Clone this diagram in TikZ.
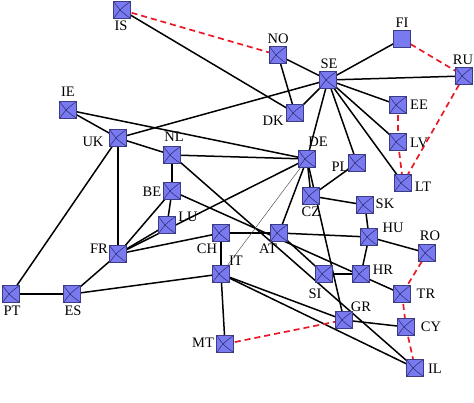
\documentclass[tikz,border=0pt]{standalone}
\usepackage{fontspec}
\setmainfont{Liberation Serif}
\usetikzlibrary{backgrounds}
\definecolor{boxfill}{RGB}{122,122,240}
\definecolor{boxborder}{RGB}{60,60,130}
\definecolor{xcol}{RGB}{40,40,110}
\definecolor{redlink}{RGB}{235,25,40}
\tikzset{
  sw/.style={rectangle, draw=boxborder, fill=boxfill, minimum size=17.5pt, inner sep=0pt, line width=0.6pt,
    path picture={\draw[xcol, line width=0.5pt]
      ([shift={(1pt,1pt)}]path picture bounding box.south west) to[bend left=12] ([shift={(-1pt,-1pt)}]path picture bounding box.north east)
      ([shift={(1pt,-1pt)}]path picture bounding box.north west) to[bend right=12] ([shift={(-1pt,1pt)}]path picture bounding box.south east);}},
  swplain/.style={rectangle, draw=boxborder, fill=boxfill, minimum size=17.5pt, inner sep=0pt, line width=0.6pt},
  lbl/.style={font=\fontsize{14.5}{15}\selectfont, inner sep=0pt},
  blk/.style={draw=black, line width=1.5pt},
  thinl/.style={draw=black!70, line width=0.45pt},
  reddash/.style={draw=redlink, line width=1.7pt, dash pattern=on 6pt off 4pt},
}
\begin{document}
\begin{tikzpicture}[x=1pt,y=-1pt]
\useasboundingbox (0,0) rectangle (474,402);
% switches
\node[sw] (IS) at (122,10) {};
\node[sw] (NO) at (278,55) {};
\node[sw] (SE) at (328,80) {};
\node[swplain] (FI) at (402,39) {};
\node[sw] (RU) at (464,76) {};
\node[sw] (DK) at (295,113) {};
\node[sw] (EE) at (398,105) {};
\node[sw] (LV) at (398,142) {};
\node[sw] (LT) at (403,183) {};
\node[sw] (IE) at (68,110) {};
\node[sw] (UK) at (118,138) {};
\node[sw] (NL) at (172,155) {};
\node[sw] (DE) at (307,159) {};
\node[sw] (PL) at (357,163) {};
\node[sw] (BE) at (172,191) {};
\node[sw] (LU) at (167,225) {};
\node[sw] (FR) at (118,254) {};
\node[sw] (CH) at (221,233) {};
\node[sw] (AT) at (279,233) {};
\node[sw] (CZ) at (311,196) {};
\node[sw] (SK) at (365,205) {};
\node[sw] (HU) at (369,237) {};
\node[sw] (RO) at (427,253) {};
\node[sw] (IT) at (221,274) {};
\node[sw] (SI) at (324,274) {};
\node[sw] (HR) at (361,274) {};
\node[sw] (TR) at (402,294) {};
\node[sw] (GR) at (344,320) {};
\node[sw] (CY) at (406,327) {};
\node[sw] (IL) at (415,368) {};
\node[sw] (PT) at (11,294) {};
\node[sw] (ES) at (72,294) {};
\node[sw] (MT) at (225,344) {};
% labels
\node[lbl] (lIS) at (121,26) {IS};
\node[lbl] (lNO) at (278,39) {NO};
\node[lbl] (lSE) at (329,64) {SE};
\node[lbl] (lFI) at (402,23) {FI};
\node[lbl] (lRU) at (463,60) {RU};
\node[lbl] (lDK) at (273,121) {DK};
\node[lbl] (lEE) at (419,105) {EE};
\node[lbl] (lLV) at (419,143) {LV};
\node[lbl] (lLT) at (423,187) {LT};
\node[lbl] (lIE) at (68,92) {IE};
\node[lbl] (lUK) at (93,142) {UK};
\node[lbl] (lNL) at (174,137) {NL};
\node[lbl] (lDE) at (318,142) {DE};
\node[lbl] (lPL) at (340,167) {PL};
\node[lbl] (lBE) at (152,192) {BE};
\node[lbl] (lLU) at (188,217) {LU};
\node[lbl] (lFR) at (99,249) {FR};
\node[lbl] (lCH) at (207,249) {CH};
\node[lbl] (lAT) at (268,249) {AT};
\node[lbl] (lIT) at (236,261) {IT};
\node[lbl] (lCZ) at (311,212) {CZ};
\node[lbl] (lSK) at (385,204) {SK};
\node[lbl] (lHU) at (393,228) {HU};
\node[lbl] (lRO) at (430,236) {RO};
\node[lbl] (lSI) at (315,294) {SI};
\node[lbl] (lHR) at (383,270) {HR};
\node[lbl] (lTR) at (426,294) {TR};
\node[lbl] (lGR) at (361,307) {GR};
\node[lbl] (lCY) at (431,327) {CY};
\node[lbl] (lIL) at (435,369) {IL};
\node[lbl] (lPT) at (12,311) {PT};
\node[lbl] (lES) at (73,311) {ES};
\node[lbl] (lMT) at (203,343) {MT};
% links
\begin{scope}[on background layer]
\draw[blk] (IS.center) -- (DK.center);
\draw[blk] (NO.center) -- (SE.center);
\draw[blk] (NO.center) -- (DK.center);
\draw[blk] (DK.center) -- (SE.center);
\draw[blk] (SE.center) -- (FI.center);
\draw[blk] (SE.center) -- (RU.center);
\draw[blk] (SE.center) -- (EE.center);
\draw[blk] (SE.center) -- (LV.center);
\draw[blk] (SE.center) -- (LT.center);
\draw[blk] (SE.center) -- (PL.center);
\draw[blk] (SE.center) -- (DE.center);
\draw[blk] (SE.center) -- (UK.center);
\draw[blk] (IE.center) -- (UK.center);
\draw[blk] (IE.center) -- (DE.center);
\draw[blk] (UK.center) -- (NL.center);
\draw[blk] (UK.center) -- (FR.center);
\draw[blk] (UK.center) -- (PT.center);
\draw[blk] (NL.center) -- (DE.center);
\draw[blk] (NL.center) -- (BE.center);
\draw[blk] (NL.center) -- (IL.center);
\draw[blk] (BE.center) -- (LU.center);
\draw[blk] (BE.center) -- (FR.center);
\draw[blk] (BE.center) -- (TR.center);
\draw[blk] (LU.center) -- (FR.center);
\draw[blk] (FR.center) -- (DE.center);
\draw[blk] (FR.center) -- (CH.center);
\draw[blk] (FR.center) -- (ES.center);
\draw[blk] (PT.center) -- (ES.center);
\draw[blk] (ES.center) -- (IT.center);
\draw[blk] (CH.center) -- (AT.center);
\draw[blk] (CH.center) -- (IT.center);
\draw[blk] (AT.center) -- (HU.center);
\draw[blk] (AT.center) -- (DE.center);
\draw[blk] (AT.center) -- (SI.center);
\draw[blk] (DE.center) -- (CZ.center);
\draw[blk] (DE.center) -- (GR.center);
\draw[thinl] (DE.center) -- (IT.center);
\draw[blk] (CZ.center) -- (PL.center);
\draw[blk] (CZ.center) -- (SK.center);
\draw[blk] (SK.center) -- (HU.center);
\draw[blk] (HU.center) -- (HR.center);
\draw[blk] (HU.center) -- (RO.center);
\draw[blk] (SI.center) -- (HR.center);
\draw[blk] (IT.center) -- (MT.center);
\draw[blk] (IT.center) -- (GR.center);
\draw[blk] (IT.center) -- (IL.center);
\draw[blk] (GR.center) -- (CY.center);
\draw[reddash] (IS.center) -- (NO.center);
\draw[reddash] (FI.center) -- (RU.center);
\draw[reddash] (RU.center) -- (LT.center);
\draw[reddash] (EE.center) -- (LV.center);
\draw[reddash] (LV.center) -- (LT.center);
\draw[reddash] (RO.center) -- (TR.center);
\draw[reddash] (TR.center) -- (CY.center);
\draw[reddash] (CY.center) -- (IL.center);
\draw[reddash] (MT.center) -- (GR.center);
\end{scope}
\end{tikzpicture}
\end{document}
